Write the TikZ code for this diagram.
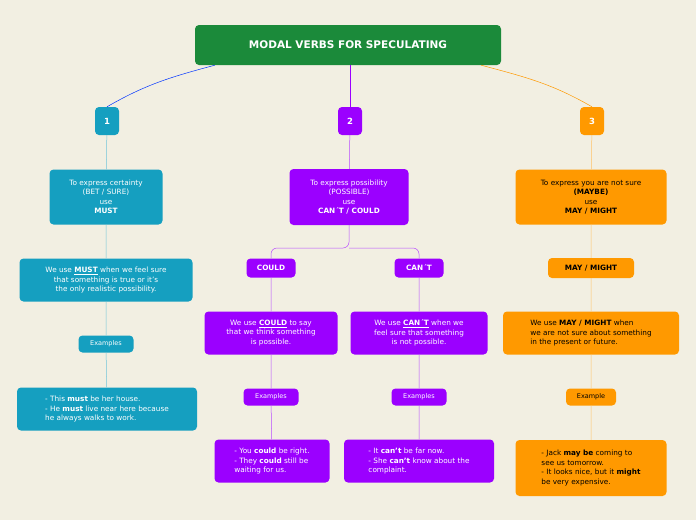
\documentclass[tikz,border=0pt]{standalone}
\usepackage{fontspec}
\setmainfont{DejaVu Sans}
\definecolor{bg}{HTML}{F2EFE2}
\definecolor{tg}{HTML}{1B8A3A}
\definecolor{tb}{HTML}{159FC0}
\definecolor{pu}{HTML}{9B00FF}
\definecolor{or}{HTML}{FF9900}
\begin{document}
\begin{tikzpicture}[x=1pt,y=-1pt,
  box/.style={rounded corners=4pt,text=white,align=center,inner sep=2pt,font=\fontsize{7.3}{9.5}\selectfont},
  dbox/.style={box,text=black},
  ln/.style={line width=0.5pt}]
\fill[bg] (0,0) rectangle (696,520);
\useasboundingbox (0,0) rectangle (696,520);
\node[box,fill=tg,minimum width=306,minimum height=40,font=\bfseries\fontsize{10.5}{12}\selectfont] (t) at (348,45) {MODAL VERBS FOR SPECULATING};
\node[box,fill=tb,minimum width=24,minimum height=28,font=\bfseries\fontsize{8.5}{10}\selectfont] (n1) at (107,121) {1};
\node[box,fill=pu,minimum width=24,minimum height=28,font=\bfseries\fontsize{8.5}{10}\selectfont] (n2) at (350,121) {2};
\node[box,fill=or,minimum width=24,minimum height=28,font=\bfseries\fontsize{8.5}{10}\selectfont] (n3) at (592,121) {3};
\node[box,fill=tb,minimum width=113,minimum height=55] (a1) at (106,197) {To express certainty\\(BET / SURE)\\use\\\textbf{MUST}};
\node[box,fill=pu,minimum width=119,minimum height=56] (a2) at (349,197) {To express possibility\\(POSSIBLE)\\use\\\textbf{CAN´T / COULD}};
\node[dbox,fill=or,minimum width=151,minimum height=55] (a3) at (591,197) {To express you are not sure\\\textbf{(MAYBE)}\\use\\\textbf{MAY / MIGHT}};
\node[box,fill=tb,minimum width=173,minimum height=43] (b1) at (106,280) {We use \textbf{\underline{MUST}} when we feel sure\\that something is true or it's\\the only realistic possibility.};
\node[box,fill=tb,minimum width=55,minimum height=17,font=\fontsize{6.5}{8}\selectfont] (e1) at (106,344) {Examples};
\node[box,fill=tb,minimum width=180,minimum height=43,align=left] (x1) at (107,409) {- This \textbf{must} be her house.\\- He \textbf{must} live near here because\\he always walks to work.};
\node[box,fill=pu,minimum width=49,minimum height=19,font=\bfseries\fontsize{7.3}{9}\selectfont] (c1) at (271,268) {COULD};
\node[box,fill=pu,minimum width=49,minimum height=19,font=\bfseries\fontsize{7.3}{9}\selectfont] (c2) at (419,268) {CAN´T};
\node[box,fill=pu,minimum width=133,minimum height=43] (d1) at (271,333) {We use \textbf{\underline{COULD}} to say\\that we think something\\is possible.};
\node[box,fill=pu,minimum width=137,minimum height=43] (d2) at (419,333) {We use \textbf{\underline{CAN´T}} when we\\feel sure that something\\is not possible.};
\node[box,fill=pu,minimum width=55,minimum height=17,font=\fontsize{6.5}{8}\selectfont] (e2) at (271,397) {Examples};
\node[box,fill=pu,minimum width=55,minimum height=17,font=\fontsize{6.5}{8}\selectfont] (e3) at (419,397) {Examples};
\node[box,fill=pu,minimum width=115,minimum height=43,align=left] (x2) at (272,461) {- You \textbf{could} be right.\\- They \textbf{could} still be\\waiting for us.};
\node[box,fill=pu,minimum width=150,minimum height=43,align=left] (x3) at (419,461) {- It \textbf{can't} be far now.\\- She \textbf{can't} know about the\\complaint.};
\node[dbox,fill=or,minimum width=86,minimum height=20,font=\bfseries\fontsize{7.3}{9}\selectfont] (m) at (591,268) {MAY / MIGHT};
\node[dbox,fill=or,minimum width=176,minimum height=43,align=left] (b3) at (591,333) {We use \textbf{MAY / MIGHT} when\\we are not sure about something\\in the present or future.};
\node[dbox,fill=or,minimum width=50,minimum height=17,font=\fontsize{6.5}{8}\selectfont] (e4) at (591,397) {Example};
\node[dbox,fill=or,minimum width=151,minimum height=56,align=left] (x4) at (591,468) {- Jack \textbf{may be} coming to\\see us tomorrow.\\- It looks nice, but it \textbf{might}\\be very expensive.};
% connectors
\draw[ln,blue!80!cyan] (t.south west)++(20,0) coordinate (ta) to[out=195,in=30] (n1.north);
\draw[ln,pu] (n2.north) -- (n2.north|-t.south);
\draw[ln,or] (t.south east)++(-20,0) coordinate (tc) to[out=-15,in=150] (n3.north);
\draw[ln,tb!60] (n1) -- (a1) (a1) -- (b1) (b1) -- (e1) (e1) -- (x1);
\draw[ln,pu!70] (n2) -- (a2) (d1) -- (e2) (e2) -- (x2) (d2) -- (e3) (e3) -- (x3) (c1) -- (d1) (c2) -- (d2);
\draw[ln,pu!70,rounded corners=6pt] (a2.south) -- (349,248) -| (c1.north);
\draw[ln,pu!70,rounded corners=6pt] (349,248) -| (c2.north);
\draw[ln,or!60] (n3) -- (a3) (a3) -- (m) (m) -- (b3) (b3) -- (e4) (e4) -- (x4);
\end{tikzpicture}
\end{document}
